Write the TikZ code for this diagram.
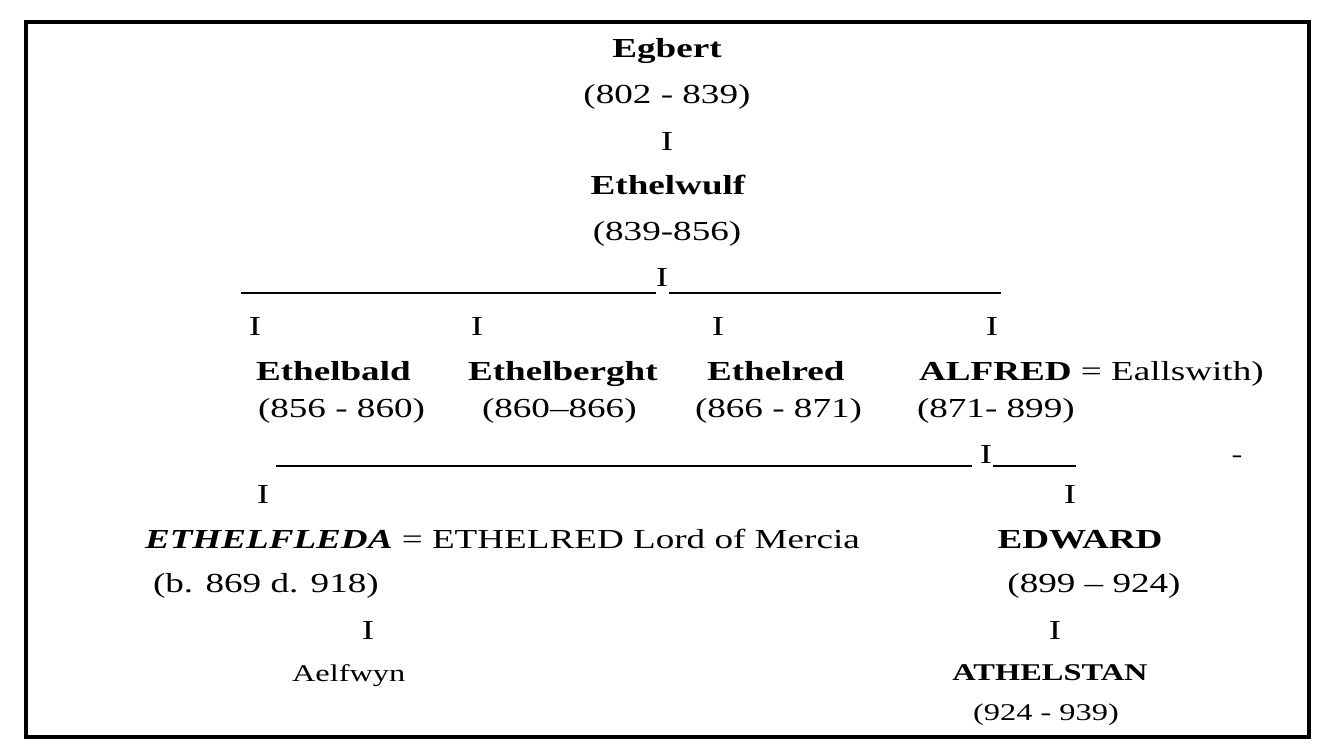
\documentclass[tikz,border=0pt]{standalone}
\usepackage{fontspec}
\setmainfont{Liberation Serif}[FakeStretch=1.35]

\begin{document}
\begin{tikzpicture}[x=1pt,y=-1pt,
        %Option for plain text nodes%
        inner sep=0pt,%
        outer sep=0pt,%
        plain/.style={font=\fontsize{27.5}{30}\selectfont},%
        king/.style={font=\fontsize{27.5}{30}\selectfont\bfseries},%
        small/.style={font=\fontsize{24}{27}\selectfont},%
        small king/.style={font=\fontsize{24}{27}\selectfont\bfseries},%
        link/.style={plain, anchor=base},%
        bar/.style={line width=1.4pt}%
    ]
    \useasboundingbox (0,0) rectangle (1333,745);
    \draw[line width=4pt] (25.5,22) rectangle (1308.5,737);
    %% first generations
    \node[king, anchor=base]  (egbert)    at (667,57)  {Egbert};
    \node[plain, anchor=base] (egbertD)   at (667,103) {(802 - 839)};
    \node[link]               (l1)        at (667,150) {I};
    \node[king, anchor=base]  (ethelwulf) at (668,194) {Ethelwulf};
    \node[plain, anchor=base] (ethelwulfD) at (667,240) {(839-856)};
    \node[link]               (l2)        at (662,286) {I};
    %
    \coordinate (b1w) at (241,293);
    \coordinate (b1m) at (656,293);
    \coordinate (b1n) at (669,293);
    \coordinate (b1e) at (1001,293);
    \draw[bar] (b1w) -- (b1m);
    \draw[bar] (b1n) -- (b1e);
    %% sons of Ethelwulf
    \foreach \x/\n in {255/a,477/b,718/c,992/d}
        \node[link] (s\n) at (\x,335) {I};
    \node[king, anchor=base west]  (ethelbald)   at (256,380) {Ethelbald};
    \node[king, anchor=base west]  (ethelberght) at (468,380) {Ethelberght};
    \node[king, anchor=base west]  (ethelred)    at (707,380) {Ethelred};
    \node[plain, anchor=base west] (alfred)      at (919,380) {\bfseries ALFRED\mdseries{} = Eallswith)};
    \node[plain, anchor=base west] (ethelbaldD)   at (258,417) {(856 - 860)};
    \node[plain, anchor=base west] (ethelberghtD) at (482,417) {(860–866)};
    \node[plain, anchor=base west] (ethelredD)    at (695,417) {(866 - 871)};
    \node[plain, anchor=base west] (alfredD)      at (917,417) {(871- 899)};
    %
    \node[link] (l3) at (986,463) {I};
    \coordinate (b2w) at (276,466);
    \coordinate (b2m) at (972,466);
    \coordinate (b2n) at (993,466);
    \coordinate (b2e) at (1076,466);
    \draw[bar] (b2w) -- (b2m);
    \draw[bar] (b2n) -- (b2e);
    \node[small, anchor=base] (tick) at (1237,462) {-};
    %% children of Alfred
    \node[link] (ca) at (263,503)  {I};
    \node[link] (cb) at (1070,503) {I};
    \node[plain, anchor=base west] (ethelfleda) at (145,548)
        {\bfseries\itshape ETHELFLEDA\mdseries\upshape{} = ETHELRED Lord of Mercia};
    \node[king, anchor=base]        (edward)     at (1080,548) {EDWARD};
    \node[plain, anchor=base west]  (ethelfledaD) at (153,592) {(b. 869 d. 918)};
    \node[plain, anchor=base]       (edwardD)    at (1094,592) {(899 – 924)};
    %% grandchildren
    \node[link] (ga) at (368,639)  {I};
    \node[link] (gb) at (1055,639) {I};
    \node[small, anchor=base west] (aelfwyn)   at (292,681)  {Aelfwyn};
    \node[small king, anchor=base] (athelstan) at (1050,680) {ATHELSTAN};
    \node[small, anchor=base]      (athelstanD) at (1046,720) {(924 - 939)};
\end{tikzpicture}
\end{document}
